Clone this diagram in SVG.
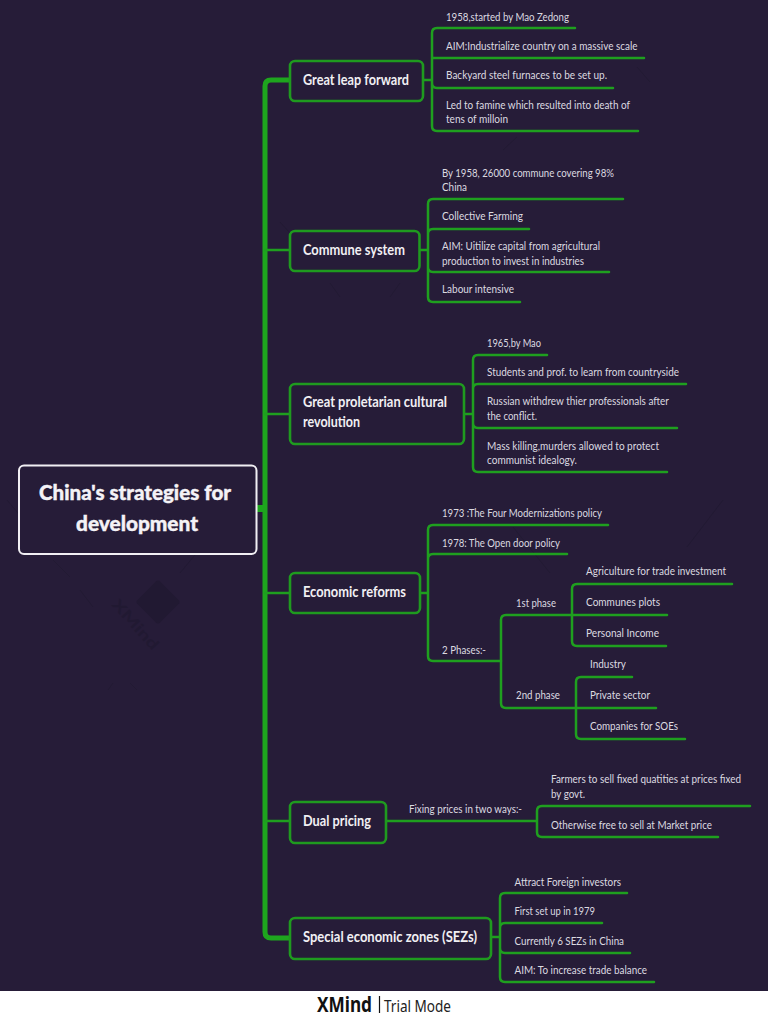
<svg xmlns="http://www.w3.org/2000/svg" width="768" height="1024" viewBox="0 0 768 1024">
<style>
text{font-family:"Lato","Open Sans","Liberation Sans",sans-serif}
.n{fill:#261c38;stroke:#1f9a1f;stroke-width:2.6}
.t{fill:#f1eff3;font-size:14.5px;font-weight:700}
.l{fill:#dcdae0;font-size:11px}
.c{fill:none;stroke:#1f9f1f;stroke-width:2.5;stroke-linecap:round}
.wl{fill:none;stroke:#221a33;stroke-width:1}
</style>
<rect width="768" height="1024" fill="#fff"/>
<rect width="768" height="991" fill="#261c38"/>
<g id="watermark">
<path class="wl" d="M7 500L43 543M243 497L180 573M53 560L70 577M80 590L93 607M637 67L650 82M517 137L503 150M280 222L317 263M330 283L340 297M400 283L390 297M723 500L687 547M513 527L550 573M113 683L108 690M130 683L137 690"/>
<g transform="translate(158 602) rotate(45)"><rect x="-16" y="-16" width="32" height="32" rx="3" fill="#211932"/></g>
<text x="111" y="605" transform="rotate(48 111 605)" font-size="15" font-weight="700" fill="#211932" textLength="62" lengthAdjust="spacingAndGlyphs">XMind</text>
</g>
<g id="connectors">
<path d="M290 80H271Q265 80 265 86V932Q265 938 271 938H290" fill="none" stroke="#1ea51e" stroke-width="5"/>
<path d="M257 508.500H265" stroke="#1ea51e" stroke-width="7"/>
<path class="c" d="M265 250H290M265 414H290M265 593H290M265 821H290"/>
<path class="c" d="M423 80H432M575 28H437Q432 28 432 33V126Q432 131 437 131H638M432 58H644M432 83Q432 88 437 88H613"/>
<path class="c" d="M420 250H428M623 199H433Q428 199 428 204V297Q428 302 433 302H520M428 234Q428 229 433 229H529M428 267Q428 272 433 272H609"/>
<path class="c" d="M465 414H473M547 355H478Q473 355 473 360V467Q473 472 478 472H667M473 389Q473 384 478 384H686M473 423Q473 428 478 428H677"/>
<path class="c" d="M420 593H428M608 525H433Q428 525 428 530V656Q428 661 433 661H501M428 559Q428 554 433 554H567"/>
<path class="c" d="M667 615H506Q501 615 501 620V703Q501 708 506 708H656"/>
<path class="c" d="M732 584H577Q572 584 572 589V641Q572 646 577 646H666"/>
<path class="c" d="M632 677H581Q576 677 576 682V734Q576 739 581 739H685"/>
<path class="c" d="M386 821H537M750 806H542Q537 806 537 811V832Q537 837 542 837H718"/>
<path class="c" d="M491 937H500M627 893H505Q500 893 500 898V977Q500 982 505 982H654M500 928Q500 923 505 923H602M500 948Q500 953 505 953H630"/>
</g>
<g id="root"><rect x="19" y="465.500" width="237.500" height="88.500" rx="5" fill="#261c38" stroke="#f1eff3" stroke-width="2"/>
<text x="39" y="500" font-size="20.500" font-weight="900" fill="#f4f2f6" stroke="#f4f2f6" stroke-width=".4" textLength="192" lengthAdjust="spacingAndGlyphs">China's strategies for</text>
<text x="76" y="531" font-size="20.500" font-weight="900" fill="#f4f2f6" stroke="#f4f2f6" stroke-width=".4" textLength="122" lengthAdjust="spacingAndGlyphs">development</text></g>
<g id="n1"><rect class="n" x="290" y="61" width="133" height="40" rx="5"/><text class="t" x="303" y="85" textLength="106" lengthAdjust="spacingAndGlyphs">Great leap forward</text></g>
<g id="n2"><rect class="n" x="290" y="231" width="129.500" height="40" rx="5"/><text class="t" x="303" y="255" textLength="102" lengthAdjust="spacingAndGlyphs">Commune system</text></g>
<g id="n3"><rect class="n" x="290" y="384" width="174" height="60" rx="5"/><text class="t" x="303" y="407" textLength="144" lengthAdjust="spacingAndGlyphs">Great proletarian cultural</text><text class="t" x="303" y="427" textLength="57" lengthAdjust="spacingAndGlyphs">revolution</text></g>
<g id="n4"><rect class="n" x="290" y="573" width="130" height="40" rx="5"/><text class="t" x="303" y="597" textLength="103" lengthAdjust="spacingAndGlyphs">Economic reforms</text></g>
<g id="n5"><rect class="n" x="290" y="802" width="96" height="41" rx="5"/><text class="t" x="303" y="826" textLength="68" lengthAdjust="spacingAndGlyphs">Dual pricing</text></g>
<g id="n6"><rect class="n" x="290" y="918" width="201" height="41" rx="5"/><text class="t" x="303" y="942" textLength="174" lengthAdjust="spacingAndGlyphs">Special economic zones (SEZs)</text></g>
<g id="leaves">
<text class="l" x="446" y="21" lengthAdjust="spacingAndGlyphs" textLength="123">1958,started by Mao Zedong</text>
<text class="l" x="446" y="50" lengthAdjust="spacingAndGlyphs" textLength="191.500">AIM:Industrialize country on a massive scale</text>
<text class="l" x="446" y="79" lengthAdjust="spacingAndGlyphs" textLength="161">Backyard steel furnaces to be set up.</text>
<text class="l" x="446" y="109" lengthAdjust="spacingAndGlyphs" textLength="184">Led to famine which resulted into death of</text>
<text class="l" x="446" y="123" lengthAdjust="spacingAndGlyphs" textLength="62">tens of milloin</text>
<text class="l" x="442" y="177" lengthAdjust="spacingAndGlyphs" textLength="172">By 1958, 26000 commune covering 98%</text>
<text class="l" x="442" y="191" lengthAdjust="spacingAndGlyphs" textLength="25">China</text>
<text class="l" x="442" y="220" lengthAdjust="spacingAndGlyphs" textLength="81">Collective Farming</text>
<text class="l" x="442" y="250" lengthAdjust="spacingAndGlyphs" textLength="158">AIM: Uitilize capital from agricultural</text>
<text class="l" x="442" y="265" lengthAdjust="spacingAndGlyphs" textLength="142">production to invest in industries</text>
<text class="l" x="442" y="293" lengthAdjust="spacingAndGlyphs" textLength="72">Labour intensive</text>
<text class="l" x="487" y="347" lengthAdjust="spacingAndGlyphs" textLength="54">1965,by Mao</text>
<text class="l" x="487" y="376" lengthAdjust="spacingAndGlyphs" textLength="192">Students and prof. to learn from countryside</text>
<text class="l" x="487" y="405" lengthAdjust="spacingAndGlyphs" textLength="182">Russian withdrew thier professionals after</text>
<text class="l" x="487" y="420" lengthAdjust="spacingAndGlyphs" textLength="50">the conflict.</text>
<text class="l" x="487" y="450" lengthAdjust="spacingAndGlyphs" textLength="172">Mass killing,murders allowed to protect</text>
<text class="l" x="487" y="464" lengthAdjust="spacingAndGlyphs" textLength="90">communist idealogy.</text>
<text class="l" x="442" y="517" lengthAdjust="spacingAndGlyphs" textLength="160">1973 :The Four Modernizations policy</text>
<text class="l" x="442" y="547" lengthAdjust="spacingAndGlyphs" textLength="118">1978: The Open door policy</text>
<text class="l" x="442" y="654" lengthAdjust="spacingAndGlyphs" textLength="44">2 Phases:-</text>
<text class="l" x="516" y="607" lengthAdjust="spacingAndGlyphs" textLength="40">1st phase</text>
<text class="l" x="516" y="699" lengthAdjust="spacingAndGlyphs" textLength="44">2nd phase</text>
<text class="l" x="586" y="575" lengthAdjust="spacingAndGlyphs" textLength="140">Agriculture for trade investment</text>
<text class="l" x="586" y="606" lengthAdjust="spacingAndGlyphs" textLength="74">Communes plots</text>
<text class="l" x="586" y="637" lengthAdjust="spacingAndGlyphs" textLength="73">Personal Income</text>
<text class="l" x="590" y="668" lengthAdjust="spacingAndGlyphs" textLength="36">Industry</text>
<text class="l" x="590" y="699" lengthAdjust="spacingAndGlyphs" textLength="60">Private sector</text>
<text class="l" x="590" y="730" lengthAdjust="spacingAndGlyphs" textLength="88">Companies for SOEs</text>
<text class="l" x="409" y="813" lengthAdjust="spacingAndGlyphs" textLength="113">Fixing prices in two ways:-</text>
<text class="l" x="551" y="783" lengthAdjust="spacingAndGlyphs" textLength="190">Farmers to sell fixed quatities at prices fixed</text>
<text class="l" x="551" y="798" lengthAdjust="spacingAndGlyphs" textLength="34">by govt.</text>
<text class="l" x="551" y="829" lengthAdjust="spacingAndGlyphs" textLength="161">Otherwise free to sell at Market price</text>
<text class="l" x="514.500" y="886" lengthAdjust="spacingAndGlyphs" textLength="106.500">Attract Foreign investors</text>
<text class="l" x="514.500" y="915" lengthAdjust="spacingAndGlyphs" textLength="80.500">First set up in 1979</text>
<text class="l" x="514.500" y="945" lengthAdjust="spacingAndGlyphs" textLength="109.500">Currently 6 SEZs in China</text>
<text class="l" x="514.500" y="974" lengthAdjust="spacingAndGlyphs" textLength="132.500">AIM: To increase trade balance</text>
</g>
<g id="footer">
<text x="317" y="1012" font-size="21" font-weight="700" fill="#111" style="font-family:'Noto Sans',sans-serif" textLength="55" lengthAdjust="spacingAndGlyphs">XMind</text>
<path d="M379.500 996V1013" stroke="#111" stroke-width="1.200"/>
<text x="384" y="1012" font-size="16" fill="#222" style="font-family:'Noto Sans',sans-serif" textLength="67" lengthAdjust="spacingAndGlyphs">Trial Mode</text>
</g>
</svg>
